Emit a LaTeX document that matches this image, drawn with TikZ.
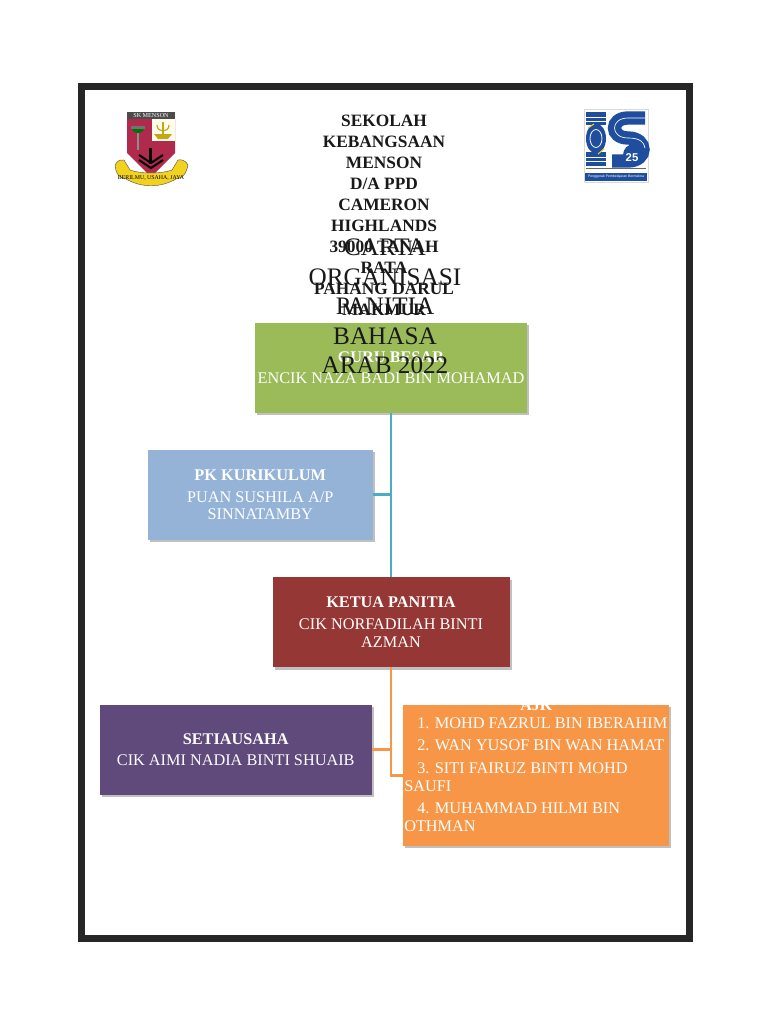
\documentclass[tikz,border=0pt]{standalone}
\usepackage{fontspec}
\setmainfont{Liberation Serif}
\setsansfont{Liberation Sans}
\usetikzlibrary{positioning,calc,shadows}
\definecolor{guruGreen}{HTML}{9BBB59}
\definecolor{pkBlue}{HTML}{95B3D7}
\definecolor{ketuaRed}{HTML}{953735}
\definecolor{setiaPurple}{HTML}{604A7B}
\definecolor{ajkOrange}{HTML}{F79646}
\definecolor{linkTeal}{HTML}{4BACC6}
\definecolor{logoRed}{HTML}{B02A4E}
\definecolor{logoBlue}{HTML}{1F4E9E}
\definecolor{logoYellow}{HTML}{F2D21E}
\begin{document}
\begin{tikzpicture}[
  x=0.75pt, y=-0.75pt,
  box/.style={draw=none, align=center, text=white, minimum height=67.5pt, inner sep=0pt, font=\fontsize{12.2}{13.2}\selectfont,
    drop shadow={shadow xshift=1.5pt, shadow yshift=-2pt, opacity=.35, fill=black!70}},
  head/.style={font=\fontsize{13}{13.2}\selectfont\bfseries, align=center, text=black!90},
  title/.style={font=\fontsize{18.9}{22.1}\selectfont, align=center, text=black!90},
  tealln/.style={draw=linkTeal, line width=2.2pt},
  orangeln/.style={draw=ajkOrange, line width=2.2pt}
]
\useasboundingbox (0,0) rectangle (768,1024);
\fill[white] (0,0) rectangle (768,1024);
\draw[black!85, line width=5.2pt] (81.5,86.5) rectangle (689.5,938.5);

% left logo
\fill[logoRed] (127,119) -- (175,119) -- (175,153) -- (151,177) -- (127,153) -- cycle;
\fill[black!70] (127,112) rectangle (175,119);
\node[font=\fontsize{4.6}{5}\selectfont, text=white, inner sep=0pt] (skname) at (151,115.5) {SK MENSON};
\fill[yellow!8] (152,119) rectangle (175,141);
\fill[logoYellow!80!black] (154,134) -- (172,134) -- (168,139) -- (158,139) -- cycle;
\draw[logoYellow!80!black, line width=1.2pt] (163,122) -- (163,136);
\draw[logoYellow!80!black, line width=.9pt] (157,125) .. controls (157,133) and (169,133) .. (169,125);
\fill[black!45] (137,128) rectangle (139,150);
\fill[green!45!black] (131,126) arc[start angle=180, end angle=0, radius=7] -- cycle;
\fill[black!55] (131,126) rectangle (145,129);
\fill[black] (149,148) rectangle (152,164);
\draw[black, line width=1.5pt] (139,160) -- (151,168) -- (163,160) (139,155) -- (151,163) -- (163,155);
\fill[logoYellow, draw=black!70, line width=.3pt] (115,165) .. controls (118,160) and (121,159) .. (124,160) -- (130,170) .. controls (140,174) and (162,174) .. (172,170) -- (178,160) .. controls (182,159) and (186,161) .. (188,165) .. controls (186,175) and (182,178) .. (176,179) .. controls (160,188) and (142,188) .. (126,179) .. controls (120,178) and (116,175) .. cycle;
\node[font=\fontsize{4.4}{5}\selectfont, text=black, inner sep=0pt] (motto) at (151,178.5) {BERILMU, USAHA, JAYA};

% right logo
\draw[black!15, fill=white, line width=.4pt] (584,109) rectangle (648,182);
\fill[logoBlue] (586,112) rectangle (606,125);
\fill[logoBlue] (586,152) rectangle (606,166);
\fill[logoBlue] (596,138.5) ellipse[x radius=10, y radius=15];
\draw[white, line width=.6pt] (596,138.5) ellipse[x radius=6, y radius=9];
\draw[white, line width=.4pt] (586,117) -- (606,117) (586,121) -- (606,121) (586,157) -- (606,157) (586,161) -- (606,161);
\draw[logoYellow, line width=.8pt] (588,128) -- (594,124) (598,154) -- (604,149);
\draw[logoBlue, line width=10pt] (645,118) -- (628,118) .. controls (610,118) and (610,138) .. (628,138) .. controls (648,138) and (648,161) .. (628,161) -- (612,161);
\draw[white, line width=.5pt] (645,118) -- (628,118) .. controls (610,118) and (610,138) .. (628,138) .. controls (640,138) and (644,142) .. (645,148);
\fill[logoBlue] (634,155) circle[radius=11];
\node[font=\sffamily\fontsize{8.5}{9}\selectfont\bfseries, text=white, inner sep=0pt] (silver) at (632,158) {25};
\fill[black!60] (586,167.5) rectangle (646,169);
\fill[logoBlue] (585,173) rectangle (647,181);
\node[font=\sffamily\fontsize{2.6}{3}\selectfont, text=white, inner sep=0pt] (tagline) at (616,177) {Penggerak Pembelajaran Bermakna};

\node[box, fill=guruGreen, minimum width=204pt] (guru) at (391,367.5) {\textbf{GURU BESAR}\\[3pt]ENCIK NAZA BADI BIN MOHAMAD};
\node[box, fill=ketuaRed, minimum width=177.75pt, below=123pt of guru] (ketua) {\textbf{KETUA PANITIA}\\[3pt]CIK NORFADILAH BINTI\\AZMAN};
\coordinate (tee) at ($(guru.south)!.5!(ketua.north)$);
\node[box, fill=pkBlue, minimum width=168.75pt, left=13.5pt of tee] (pk) {\textbf{PK KURIKULUM}\\[3pt]PUAN SUSHILA A/P\\SINNATAMBY};
\node[box, fill=setiaPurple, minimum width=204pt, below left=27.75pt and 14.25pt of ketua.south] (setia) {\textbf{SETIAUSAHA}\\[3pt]CIK AIMI NADIA BINTI SHUAIB};
\node[box, fill=ajkOrange, minimum width=199.5pt, minimum height=105.75pt, below right=27.75pt and 9pt of ketua.south] (ajk) {};

\draw[tealln] (guru.south) -- (ketua.north);
\draw[tealln] (pk.east) -- (tee);
\draw[orangeln] (ketua.south) |- (ajk.west);
\draw[orangeln] (setia.east) -- (setia.east -| ketua.south);

\node[font=\fontsize{12}{13.2}\selectfont\bfseries, text=white, inner sep=0pt] (ajkhead) at ($(ajk.north)+(0,-.5pt)$) {AJK};
\node[font=\fontsize{12.2}{13.2}\selectfont, text=white, align=left, inner sep=0pt, anchor=north west] (ajklist) at ($(ajk.north west)+(.75pt,-9.5pt)$)
  {\hspace{9.75pt}1. MOHD FAZRUL BIN IBERAHIM\\[4pt]
   \hspace{9.75pt}2. WAN YUSOF BIN WAN HAMAT\\[4pt]
   \hspace{9.75pt}3. SITI FAIRUZ BINTI MOHD\\SAUFI\\[3.5pt]
   \hspace{9.75pt}4. MUHAMMAD HILMI BIN\\OTHMAN};

\node[head, inner sep=0pt, anchor=north] (sekolah) at (384,115) {SEKOLAH\\[2.5pt]KEBANGSAAN\\[2.5pt]MENSON\\[2.5pt]D/A PPD\\[2.5pt]CAMERON\\[2.5pt]HIGHLANDS\\[2.5pt]39000 TANAH\\[2.5pt]RATA\\[2.5pt]PAHANG DARUL\\[2.5pt]MAKMUR};
\node[title, inner sep=0pt, anchor=north] (carta) at (385,239) {CARTA\\ORGANISASI\\PANITIA\\BAHASA\\ARAB 2022};
\end{tikzpicture}
\end{document}
